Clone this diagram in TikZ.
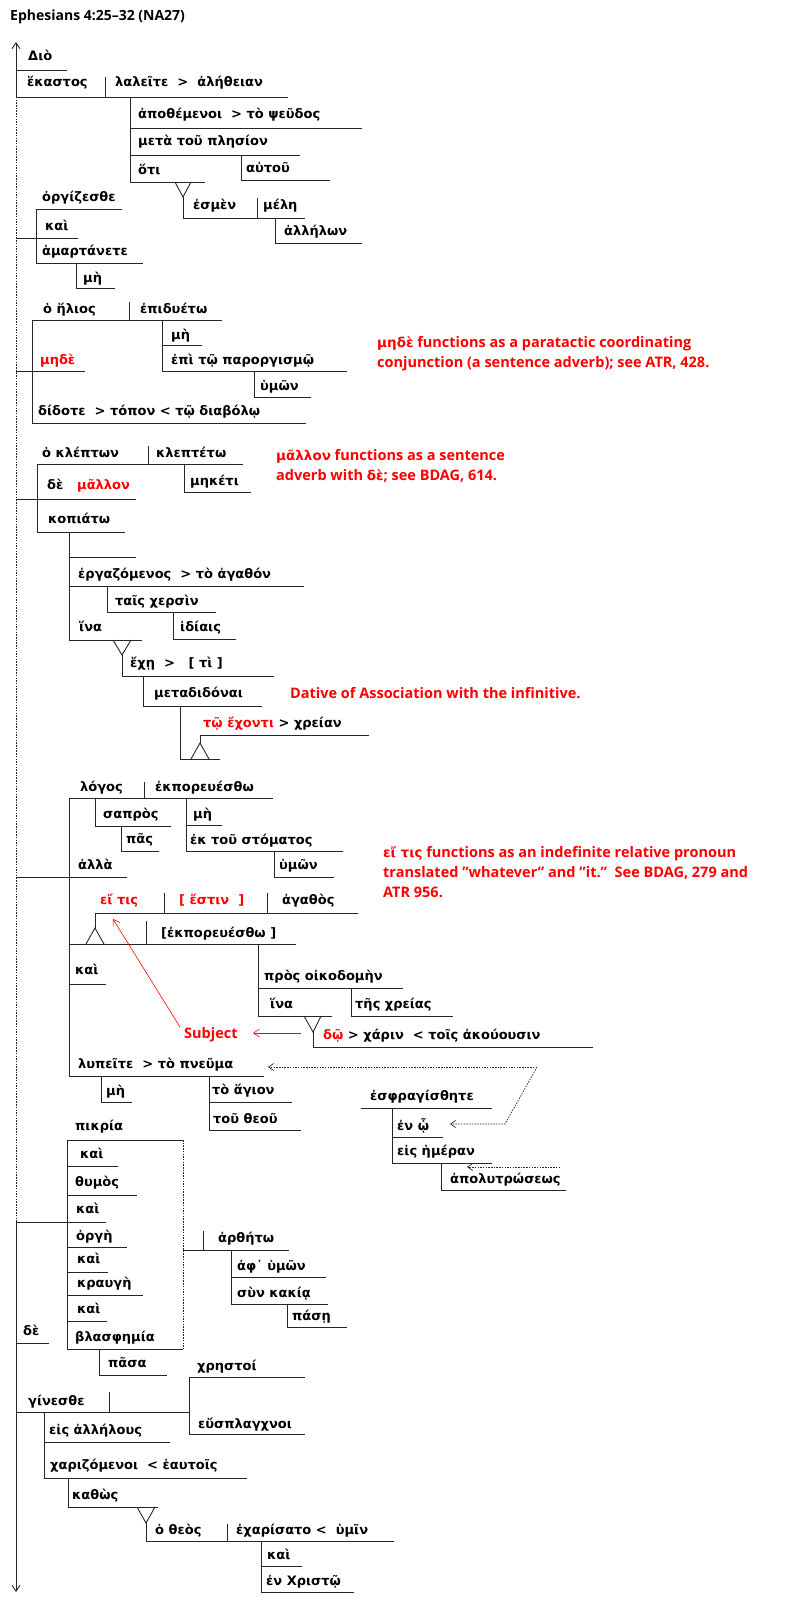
\documentclass[tikz,border=0pt]{standalone}
\usepackage{fontspec}
\setmainfont{Open Sans}[BoldFont={Open Sans Bold}]
\newfontfamily\gk{DejaVu Sans}
\usetikzlibrary{arrows.meta}
\newcounter{tn}
\newcommand\T[2]{\stepcounter{tn}\node[txt] (t\arabic{tn}) at (#1) {#2};}
\newcommand\R[2]{\stepcounter{tn}\node[txt,red] (t\arabic{tn}) at (#1) {#2};}
\newcommand\N[2]{\stepcounter{tn}\node[note] (t\arabic{tn}) at (#1) {#2};}
\newcommand\g[1]{{\gk\bfseries\fontsize{13.5}{20}\selectfont #1}}
\definecolor{rd}{RGB}{255,0,0}
\colorlet{red}{rd}
\begin{document}
\begin{tikzpicture}[x=1pt,y=-1pt,
  txt/.style={anchor=base west,inner sep=0pt,font=\gk\fontsize{13}{16}\selectfont\bfseries},
  note/.style={anchor=base west,inner sep=0pt,align=left,text=red,font=\fontsize{14.5}{20}\selectfont\bfseries},
  ln/.style={line width=0.9pt,black!85},
  dl/.style={line width=0.7pt,black!85,dash pattern=on 1.5pt off 1.2pt},
  barb/.style={-{Straight Barb[length=5pt,width=7pt]}},
]
\useasboundingbox (0,0) rectangle (807,1600);
\node[anchor=base west,inner sep=0pt,font=\fontsize{14}{16}\selectfont\bfseries] (title) at (10,21) {Ephesians 4:25–32 (NA27)};
% main line
\coordinate (mtop) at (16,42); \coordinate (mbot) at (16,1592);
\draw[ln,{Straight Barb[length=6pt,width=8pt]}-] (mtop) -- (16,97);
\draw[dl] (16,97) -- (16,1222);
\draw[ln,-{Straight Barb[length=6pt,width=8pt]}] (16,1222) -- (mbot);
% 25
\T{28,61}{Διὸ}
\draw[ln] (16,70) -- (67,70);
\T{27,87}{ἕκαστος}
\T{115,87}{λαλεῖτε ~>~ ἀλήθειαν}
\draw[ln] (16,97) -- (288,97); \draw[ln] (105,77) -- (105,97);
\draw[ln] (130,97) -- (130,182);
\T{138,119}{ἀποθέμενοι ~> τὸ ψεῦδος}
\draw[ln] (130,128) -- (362,128);
\T{138,146}{μετὰ τοῦ πλησίον}
\draw[ln] (130,155) -- (300,155);
\T{246,172}{αὐτοῦ}
\draw[ln] (241,155) -- (241,180) -- (330,180);
\T{138,174}{ὅτι}
\draw[ln] (130,182) -- (205,182);
\draw[ln] (175,182) -- (183,197) -- (191,182);
\draw[ln] (183,197) -- (183,218) -- (305,218);
\draw[ln] (257,198) -- (257,218);
\T{193,209}{ἐσμὲν}
\T{263,209}{μέλη}
\draw[ln] (275,218) -- (275,243) -- (362,243);
\T{284,235}{ἀλλήλων}
% 26
\T{42,201}{ὀργίζεσθε}
\draw[ln] (36,209) -- (122,209);
\draw[ln] (36,209) -- (36,263);
\T{45,230}{καὶ}
\draw[ln] (16,238) -- (78,238);
\T{42,255}{ἁμαρτάνετε}
\draw[ln] (36,263) -- (143,263);
\draw[ln] (76,263) -- (76,288) -- (115,288);
\T{83,282}{μὴ}
\T{43,313}{ὁ ἥλιος}
\T{140,313}{ἐπιδυέτω}
\draw[ln] (129,302) -- (129,320);
\draw[ln] (32,320) -- (222,320);
\draw[ln] (32,320) -- (32,423);
\draw[ln] (162,320) -- (162,371);
\T{171,339}{μὴ}
\draw[ln] (162,345) -- (202,345);
\T{171,364}{ἐπὶ τῷ παροργισμῷ}
\draw[ln] (162,371) -- (347,371);
\draw[ln] (254,371) -- (254,397) -- (311,397);
\T{260,390}{ὑμῶν}
\R{40,364}{μηδὲ}
\draw[ln] (16,371) -- (85,371);
\T{38,415}{δίδοτε ~> τόπον < τῷ διαβόλῳ}
\draw[ln] (32,423) -- (306,423);
\N{377,367}{\g{μηδὲ} functions as a paratactic coordinating\\conjunction (a sentence adverb); see ATR, 428.}
% 28
\T{42,457}{ὁ κλέπτων}
\T{156,457}{κλεπτέτω}
\draw[ln] (148,446) -- (148,464);
\draw[ln] (37,464) -- (243,464);
\draw[ln] (37,464) -- (37,532);
\draw[ln] (184,464) -- (184,492) -- (251,492);
\T{190,485}{μηκέτι}
\T{47,489}{δὲ}
\R{77,489}{μᾶλλον}
\draw[ln] (16,499) -- (136,499);
\N{276,480}{\g{μᾶλλον} functions as a sentence\\adverb with \g{δὲ}; see BDAG, 614.}
\T{48,523}{κοπιάτω}
\draw[ln] (37,532) -- (125,532);
\draw[ln] (69,532) -- (69,640);
\draw[ln] (69,557) -- (136,557);
\T{78,578}{ἐργαζόμενος ~> τὸ ἀγαθόν}
\draw[ln] (69,586) -- (304,586);
\draw[ln] (107,586) -- (107,612) -- (216,612);
\T{115,605}{ταῖς χερσὶν}
\draw[ln] (173,612) -- (173,639) -- (236,639);
\T{180,631}{ἰδίαις}
\T{79,631}{ἵνα}
\draw[ln] (69,640) -- (142,640);
\draw[ln] (113,640) -- (122,655) -- (131,640);
\draw[ln] (122,655) -- (122,676) -- (274,676);
\T{130,667}{ἔχῃ ~>~~ [ τὶ ]}
\draw[ln] (143,676) -- (143,706);
\T{154,697}{μεταδιδόναι}
\draw[ln] (143,706) -- (262,706);
\N{290,698}{Dative of Association with the infinitive.}
\draw[ln] (180,706) -- (180,759) -- (220,759);
\draw[ln] (191,759) -- (200,743) -- (209,759);
\draw[ln] (200,743) -- (200,735) -- (369,735);
\T{203,727}{{\color{red}τῷ ἔχοντι} > χρείαν}
% 29
\T{80,791}{λόγος}
\T{155,791}{ἐκπορευέσθω}
\draw[ln] (144,782) -- (144,798);
\draw[ln] (69,798) -- (273,798);
\draw[ln] (69,798) -- (69,1076);
\draw[ln] (95,798) -- (95,826) -- (171,826);
\T{103,818}{σαπρὸς}
\draw[ln] (121,826) -- (121,851) -- (159,851);
\T{126,843}{πᾶς}
\draw[ln] (186,798) -- (186,851);
\T{193,818}{μὴ}
\draw[ln] (186,825) -- (222,825);
\T{190,844}{ἐκ τοῦ στόματος}
\draw[ln] (186,851) -- (343,851);
\draw[ln] (274,851) -- (274,877) -- (334,877);
\T{279,869}{ὑμῶν}
\T{78,869}{ἀλλὰ}
\draw[ln] (16,877) -- (127,877);
\R{100,904}{εἴ τις}
\draw[ln] (164,893) -- (164,913);
\R{179,904}{[ ἔστιν ~]}
\draw[ln] (267,893) -- (267,913);
\T{282,904}{ἀγαθὸς}
\draw[ln] (95,913) -- (358,913);
\draw[ln] (95,913) -- (95,928);
\draw[ln] (86,944) -- (95,928) -- (104,944);
\draw[ln] (69,944) -- (296,944);
\draw[ln] (146,921) -- (146,944);
\T{161,937}{[ἐκπορευέσθω ]}
\N{383,897}{\g{εἴ τις} functions as an indefinite relative pronoun\\translated "whatever" and "it."~ See BDAG, 279 and\\ATR 956.}
\T{75,974}{καὶ}
\draw[ln] (69,984) -- (106,984);
\draw[ln] (258,944) -- (258,1016);
\T{264,980}{πρὸς οἰκοδομὴν}
\draw[ln] (258,988) -- (403,988);
\draw[ln] (351,988) -- (351,1016) -- (453,1016);
\T{355,1008}{τῆς χρείας}
\T{270,1008}{ἵνα}
\draw[ln] (258,1016) -- (332,1016);
\draw[ln] (304,1016) -- (313,1032) -- (321,1016);
\draw[ln] (313,1032) -- (313,1047) -- (593,1047);
\T{323,1039}{{\color{red}δῷ} > χάριν ~< τοῖς ἀκούουσιν}
\stepcounter{tn}\node[anchor=base west,inner sep=0pt,text=red,font=\fontsize{14.5}{20}\selectfont\bfseries] (subj) at (184,1038) {Subject};
\coordinate (ra) at (301,1033); \coordinate (rb) at (253,1033);
\draw[red,line width=0.6pt,-{Straight Barb[length=6pt,width=8pt]}] (ra) -- (rb);
\coordinate (sa) at (180,1027); \coordinate (sb) at (113,919);
\draw[red,line width=0.6pt,-{Straight Barb[length=6pt,width=8pt]}] (sa) -- (sb);
\T{78,1068}{λυπεῖτε ~> τὸ πνεῦμα}
\draw[ln] (69,1076) -- (264,1076);
\draw[ln] (101,1076) -- (101,1102) -- (132,1102);
\T{106,1095}{μὴ}
\draw[ln] (209,1076) -- (209,1130);
\T{212,1094}{τὸ ἅγιον}
\draw[ln] (209,1102) -- (292,1102);
\T{213,1123}{τοῦ θεοῦ}
\draw[ln] (209,1130) -- (301,1130);
\T{370,1100}{ἐσφραγίσθητε}
\draw[ln] (361,1108) -- (492,1108);
\draw[ln] (392,1108) -- (392,1163);
\T{397,1130}{ἐν ᾧ}
\draw[ln] (392,1137) -- (443,1137);
\T{397,1155}{εἰς ἡμέραν}
\draw[ln] (392,1163) -- (492,1163);
\draw[ln] (441,1163) -- (441,1190) -- (566,1190);
\T{450,1183}{ἀπολυτρώσεως}
\coordinate (d1) at (537,1067); \coordinate (d2) at (505,1124);
\draw[dl,barb] (d1) -- (268,1067);
\draw[dl,barb] (d1) -- (d2) -- (450,1124);
\draw[dl,barb] (560,1167) -- (467,1167);
% 31
\T{75,1130}{πικρία}
\draw[ln] (67,1140) -- (183,1140);
\draw[ln] (67,1140) -- (67,1349);
\draw[dl] (183,1140) -- (183,1349);
\T{80,1158}{καὶ}
\draw[ln] (67,1166) -- (118,1166);
\T{75,1186}{θυμὸς}
\draw[ln] (67,1195) -- (137,1195);
\T{76,1213}{καὶ}
\draw[ln] (16,1222) -- (106,1222);
\T{76,1240}{ὀργὴ}
\draw[ln] (67,1247) -- (127,1247);
\T{77,1263}{καὶ}
\draw[ln] (67,1272) -- (108,1272);
\T{77,1287}{κραυγὴ}
\draw[ln] (67,1295) -- (143,1295);
\T{77,1313}{καὶ}
\draw[ln] (67,1321) -- (107,1321);
\T{75,1341}{βλασφημία}
\draw[ln] (67,1349) -- (183,1349);
\draw[ln] (99,1349) -- (99,1375) -- (167,1375);
\T{108,1367}{πᾶσα}
\T{23,1335}{δὲ}
\draw[ln] (16,1343) -- (49,1343);
\draw[ln] (183,1250) -- (289,1250);
\draw[ln] (203,1231) -- (203,1250);
\T{218,1242}{ἀρθήτω}
\draw[ln] (231,1250) -- (231,1304);
\T{237,1270}{ἀφ᾽ ὑμῶν}
\draw[ln] (231,1277) -- (326,1277);
\T{237,1297}{σὺν κακίᾳ}
\draw[ln] (231,1304) -- (328,1304);
\draw[ln] (287,1304) -- (287,1327) -- (347,1327);
\T{292,1320}{πάσῃ}
% 32
\T{197,1370}{χρηστοί}
\draw[ln] (189,1377) -- (305,1377);
\draw[ln] (189,1377) -- (189,1434);
\T{198,1428}{εὔσπλαγχνοι}
\draw[ln] (189,1434) -- (305,1434);
\T{28,1405}{γίνεσθε}
\draw[ln] (109,1392) -- (109,1412);
\draw[ln] (16,1412) -- (189,1412);
\draw[ln] (44,1412) -- (44,1478);
\T{49,1434}{εἰς ἀλλήλους}
\draw[ln] (44,1442) -- (170,1442);
\T{50,1469}{χαριζόμενοι ~< ἑαυτοῖς}
\draw[ln] (44,1478) -- (247,1478);
\draw[ln] (68,1478) -- (68,1507) -- (158,1507);
\T{72,1499}{καθὼς}
\draw[ln] (137,1507) -- (146,1523) -- (155,1507);
\draw[ln] (146,1523) -- (146,1541) -- (394,1541);
\T{155,1534}{ὁ θεὸς}
\draw[ln] (227,1524) -- (227,1541);
\T{236,1534}{ἐχαρίσατο < ~ὑμῖν}
\draw[ln] (261,1541) -- (261,1592);
\T{267,1559}{καὶ}
\draw[ln] (261,1566) -- (302,1566);
\T{266,1585}{ἐν Χριστῷ}
\draw[ln] (261,1592) -- (354,1592);
\end{tikzpicture}
\end{document}
